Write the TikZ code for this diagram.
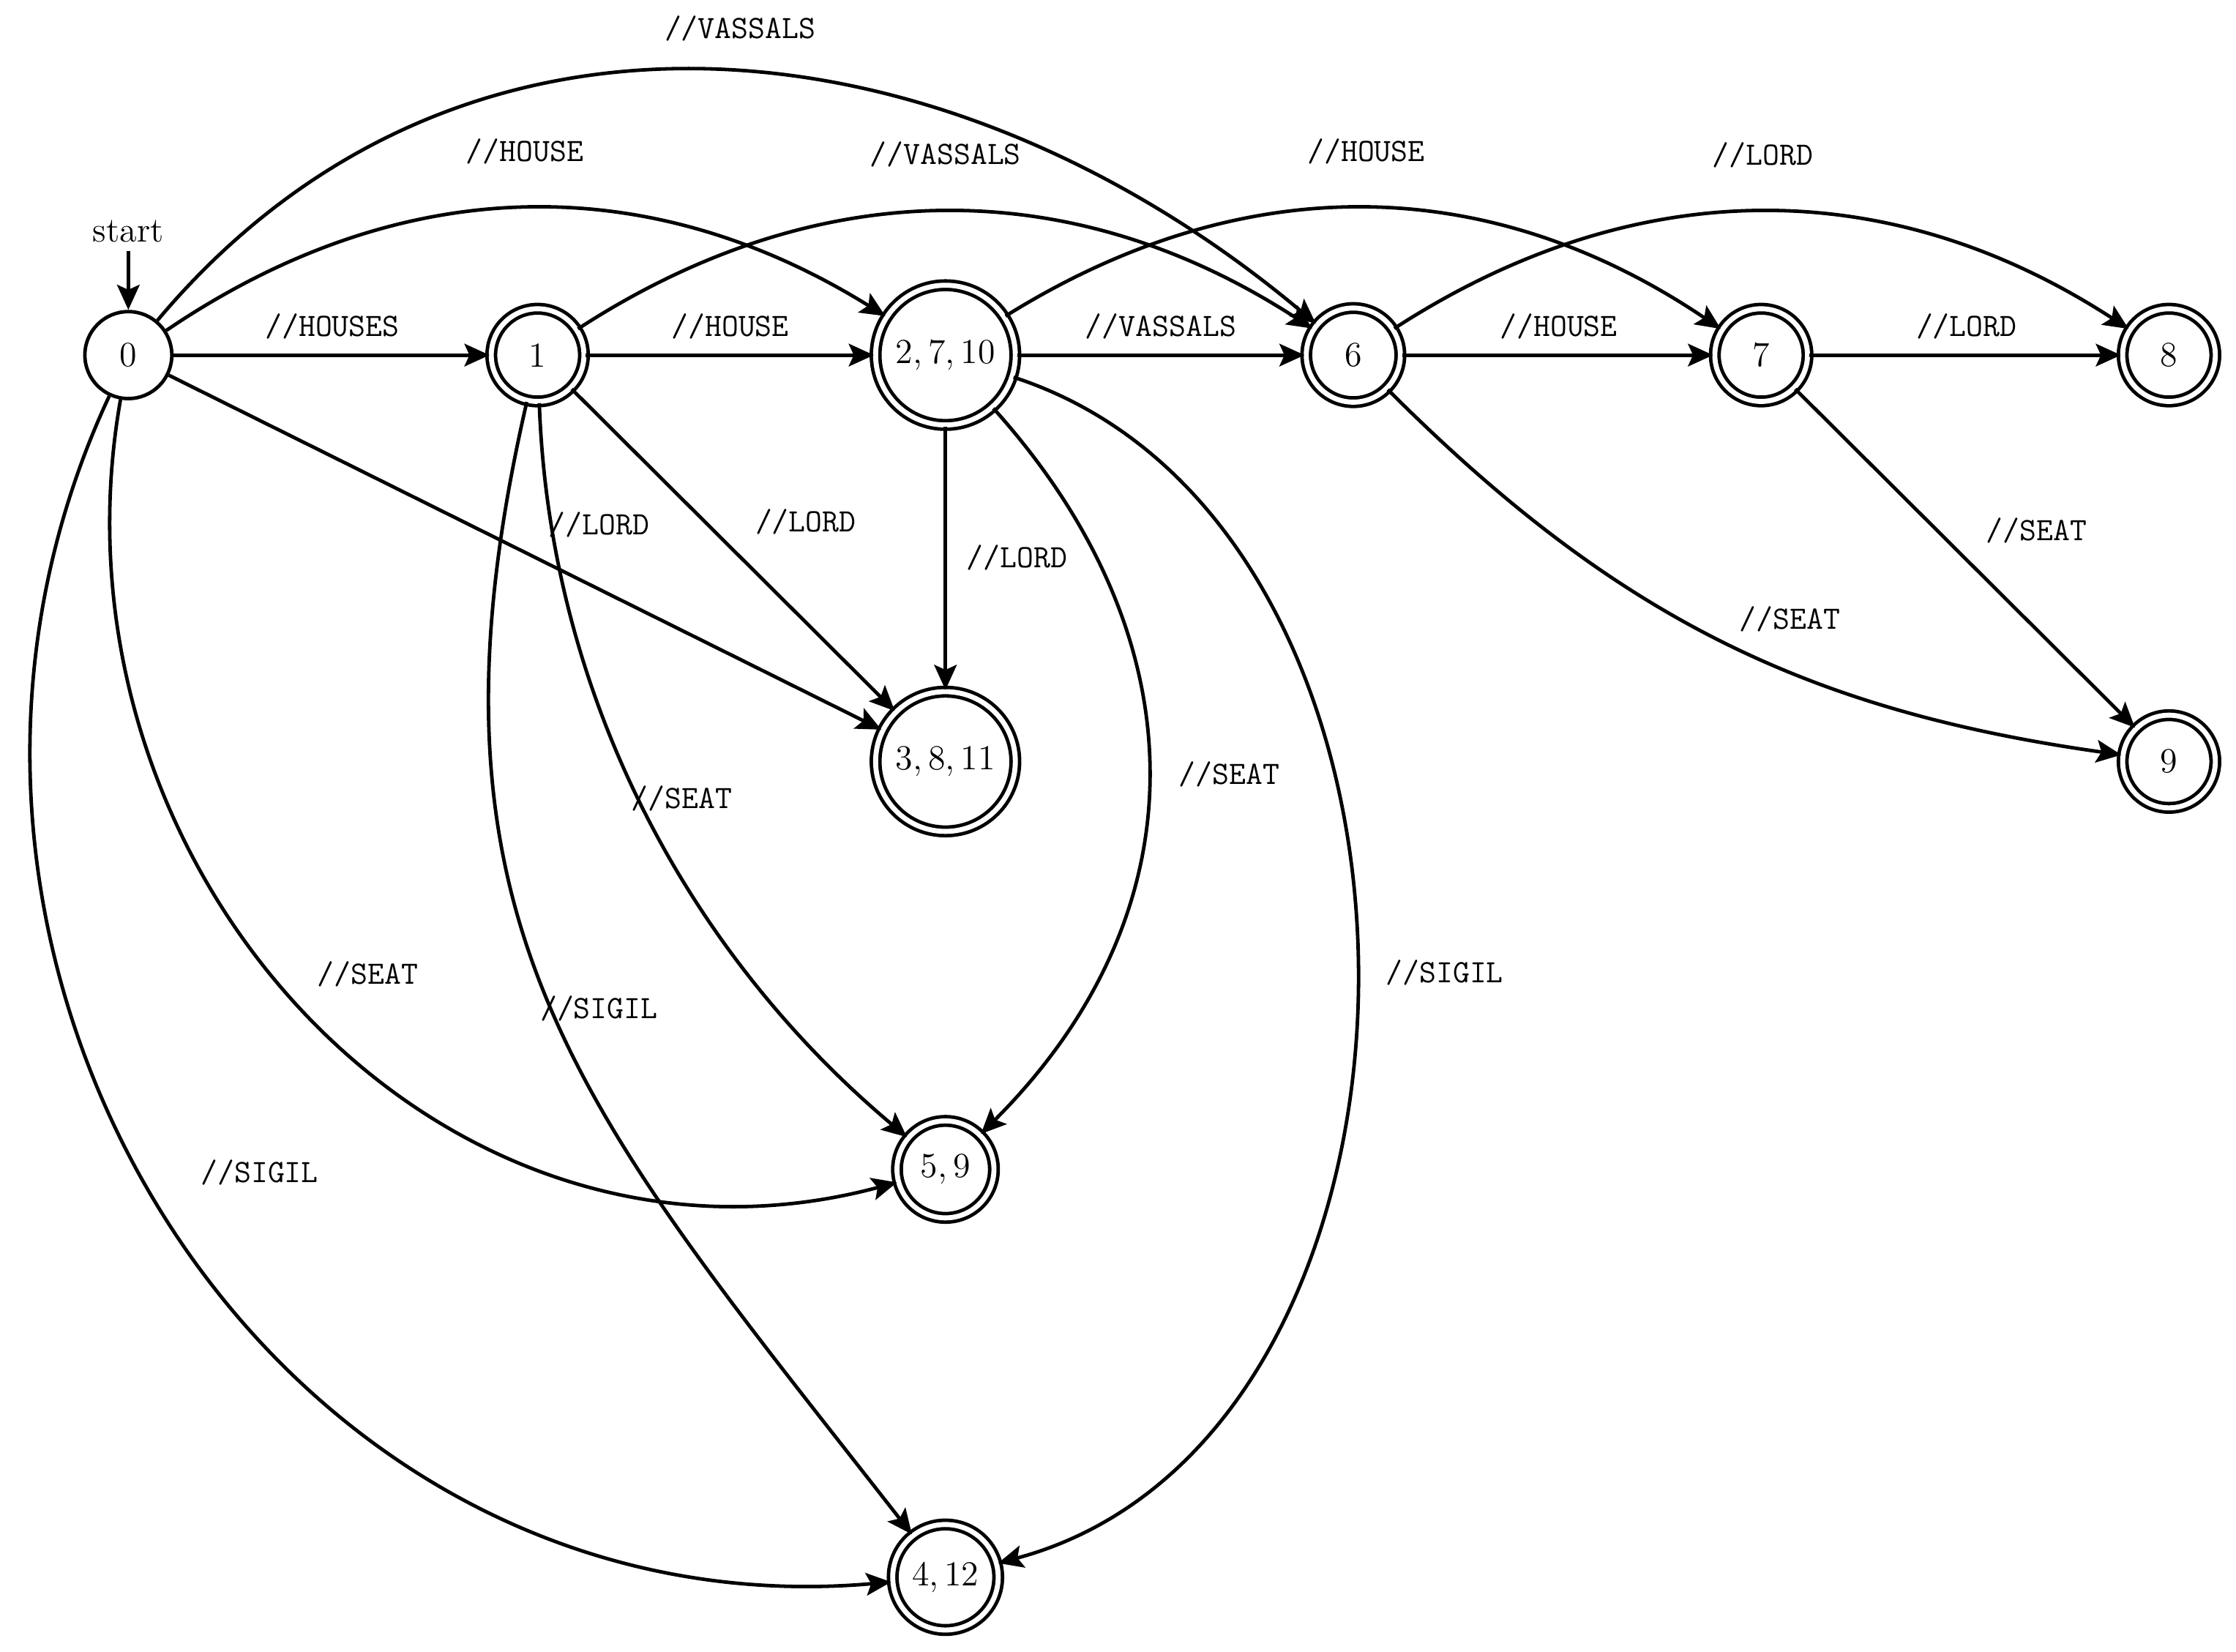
\documentclass[tikz,border=0pt]{standalone}
\usetikzlibrary{arrows.meta}
\begin{document}
\begin{tikzpicture}[x=0.02cm,y=0.02cm,
  st/.style={circle,draw,line width=1.4pt,font=\fontsize{14}{16}\selectfont,inner sep=0pt},
  acc/.style={st,double,double distance=2pt},
  lbl/.style={font=\fontsize{13}{15}\selectfont\ttfamily},
  e/.style={line width=1.4pt,-{Stealth[length=10pt,width=9pt,inset=2pt]}}]
\useasboundingbox (0,0) rectangle (1568,-1158);
\node[st,minimum size=1.22cm] (n0) at (90,-249) {0};
\node[acc,minimum size=1.3cm] (n1) at (377,-249) {1};
\node[acc,minimum size=1.96cm] (n2) at (663,-249) {2,\,7,\,10};
\node[acc,minimum size=1.32cm] (n6) at (949,-249) {6};
\node[acc,minimum size=1.3cm] (n7) at (1235,-249) {7};
\node[acc,minimum size=1.3cm] (n8) at (1521,-249) {8};
\node[acc,minimum size=1.3cm] (n9) at (1521,-534) {9};
\node[acc,minimum size=1.96cm] (n3) at (663,-534) {3,\,8,\,11};
\node[acc,minimum size=1.36cm] (n5) at (663,-820) {5,\,9};
\node[acc,minimum size=1.48cm] (n4) at (663,-1106) {4,\,12};
\node[font=\fontsize{14}{16}\selectfont] (start) at (90,-162) {start};
\draw[e] (start) -- (n0);
\draw[e] (n0) -- (n1);
\draw[e] (n1) -- (n2);
\draw[e] (n2) -- (n6);
\draw[e] (n6) -- (n7);
\draw[e] (n7) -- (n8);
\draw[e] (n0) to[bend left=33] (n2);
\draw[e] (n0) to[out=50,in=140,looseness=1.05] (n6);
\draw[e] (n1) to[bend left=33] (n6);
\draw[e] (n2) to[bend left=33] (n7);
\draw[e] (n6) to[bend left=33] (n8);
\draw[e] (n0) -- (n3);
\draw[e] (n1) -- (n3);
\draw[e] (n2) -- (n3);
\draw[e] (n7) -- (n9);
\draw[e] (n6) to[out=-45,in=172] (n9);
\draw[e] (n2) to[out=-48,in=45,looseness=1.1] (n5);
\draw[e] (n2) to[out=-18,in=15,looseness=1.05] (n4);
\draw[e] (n1) to[out=-88,in=140,looseness=0.9] (n5);
\draw[e] (n1) to[out=-103,in=128,looseness=1.15] (n4);
\draw[e] (n0) to[out=-100,in=195,looseness=1.1] (n5);
\draw[e] (n0) to[out=-115,in=185,looseness=1.12] (n4);
\node[lbl] (l1) at (233,-229) {//HOUSES};
\node[lbl] (l2) at (512,-229) {//HOUSE};
\node[lbl] (l3) at (814,-229) {//VASSALS};
\node[lbl] (l4) at (1093,-229) {//HOUSE};
\node[lbl] (l5) at (1379,-229) {//LORD};
\node[lbl] (l6) at (368,-106) {//HOUSE};
\node[lbl] (l7) at (519,-20) {//VASSALS};
\node[lbl] (l8) at (663,-108) {//VASSALS};
\node[lbl] (l9) at (958,-106) {//HOUSE};
\node[lbl] (l10) at (1236,-109) {//LORD};
\node[lbl] (l11) at (420,-368) {//LORD};
\node[lbl] (l12) at (565,-366) {//LORD};
\node[lbl] (l13) at (713,-391) {//LORD};
\node[lbl] (l14) at (1428,-372) {//SEAT};
\node[lbl] (l15) at (1255,-434) {//SEAT};
\node[lbl] (l16) at (862,-543) {//SEAT};
\node[lbl] (l17) at (478,-560) {//SEAT};
\node[lbl] (l18) at (1013,-682) {//SIGIL};
\node[lbl] (l19) at (420,-707) {//SIGIL};
\node[lbl] (l20) at (258,-683) {//SEAT};
\node[lbl] (l21) at (182,-822) {//SIGIL};
\end{tikzpicture}
\end{document}
